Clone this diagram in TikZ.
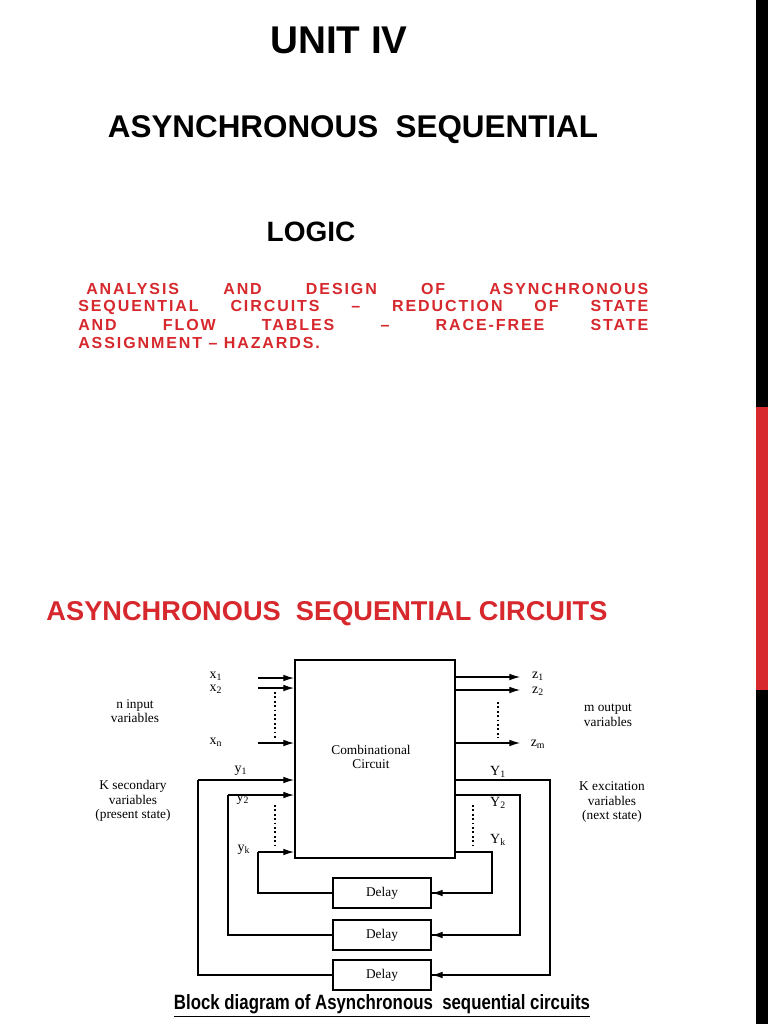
\documentclass[tikz,border=0pt]{standalone}
\usepackage{fontspec}
\setmainfont{Liberation Serif}
\setsansfont{Liberation Sans}
\usepackage{graphicx}
\usetikzlibrary{arrows.meta}
\definecolor{slred}{RGB}{214,40,45}
\begin{document}
\begin{tikzpicture}[x=0.75pt,y=-0.75pt,
  wire/.style={line width=0.8pt},
  arr/.style={wire,-{Latex[length=8pt,width=5pt]}},
  dots/.style={line width=1.3pt,dotted},
  lbl/.style={font=\fontsize{10}{11}\selectfont\rmfamily,align=center,inner sep=0pt},
  var/.style={font=\fontsize{10.5}{11}\selectfont\rmfamily,inner sep=0pt},
  boxs/.style={draw,line width=1.6pt},
  rtext/.style={text=slred,font=\sffamily\bfseries\fontsize{12}{14}\selectfont,inner sep=0pt,anchor=west}]
\useasboundingbox (0,0) rectangle (768,1024);
\fill[white] (0,0) rectangle (768,1024);
\fill[black] (756,0) rectangle (768,1024);
\fill[slred] (756,407) rectangle (768,690);
% titles
\node (t1) at (339,40) {\sffamily\bfseries\fontsize{29}{30}\selectfont UNIT IV};
\node (t2) at (353,130) {\resizebox{490\dimexpr0.75pt}{!}{\sffamily\bfseries ASYNCHRONOUS\ \ SEQUENTIAL}};
\node (t3) at (311,232) {\sffamily\bfseries\fontsize{21}{22}\selectfont LOGIC};
\node[rtext] (p1) at (86,289) {\makebox[562\dimexpr0.75pt][s]{\addfontfeature{LetterSpace=12}ANALYSIS AND DESIGN OF ASYNCHRONOUS}};
\node[rtext] (p2) at (78,307) {\makebox[570\dimexpr0.75pt][s]{\addfontfeature{LetterSpace=12}SEQUENTIAL CIRCUITS – REDUCTION OF STATE}};
\node[rtext] (p3) at (78,325) {\makebox[570\dimexpr0.75pt][s]{\addfontfeature{LetterSpace=12}AND FLOW TABLES – RACE-FREE STATE}};
\node[rtext] (p4) at (78,343) {\addfontfeature{LetterSpace=12}ASSIGNMENT – HAZARDS.};
\node[text=slred] (h) at (327,614) {\resizebox{561\dimexpr0.75pt}{!}{\sffamily\bfseries ASYNCHRONOUS\ \ SEQUENTIAL CIRCUITS}};
% diagram
\node[boxs,minimum width=160*0.75pt,minimum height=198*0.75pt,inner sep=0pt] (cc) at (375,759) {};
\node[lbl] (cct) at (371,757) {Combinational\\Circuit};
\node[boxs,minimum width=98*0.75pt,minimum height=30*0.75pt,lbl] (d1) at (382,893) {Delay};
\node[boxs,minimum width=98*0.75pt,minimum height=30*0.75pt,lbl] (d2) at (382,935) {Delay};
\node[boxs,minimum width=98*0.75pt,minimum height=30*0.75pt,lbl] (d3) at (382,975) {Delay};
% inputs
\coordinate (i1) at (258,678); \coordinate (i2) at (258,688); \coordinate (i3) at (258,743);
\draw[arr] (i1) -- (i1 -| cc.west); \draw[arr] (i2) -- (i2 -| cc.west); \draw[arr] (i3) -- (i3 -| cc.west);
\node[var] (lx1) at (216,676) {x$_{\mathrm{1}}$}; \node[var] (lx2) at (216,689) {x$_{\mathrm{2}}$}; \node[var] (lxn) at (216,742) {x$_{\mathrm{n}}$};
\draw[dots] (275,692) -- (275,738);
% outputs
\coordinate (o1) at (520,677); \coordinate (o2) at (520,690); \coordinate (o3) at (520,743);
\draw[arr] (o1 -| cc.east) -- (o1); \draw[arr] (o2 -| cc.east) -- (o2); \draw[arr] (o3 -| cc.east) -- (o3);
\node[var] (lz1) at (538,676) {z$_{\mathrm{1}}$}; \node[var] (lz2) at (538,691) {z$_{\mathrm{2}}$}; \node[var] (lzm) at (538,744) {z$_{\mathrm{m}}$};
\draw[dots] (498,702) -- (498,738);
% feedback
\coordinate (a1) at (550,780); \coordinate (a2) at (520,795); \coordinate (a3) at (492,852);
\coordinate (b1) at (198,780); \coordinate (b2) at (228,795); \coordinate (b3) at (258,852);
\draw[wire] (a1 -| cc.east) -- (a1) |- (d3.east) ; \draw[arr] (a1 |- d3.east) -- (d3.east);
\draw[wire] (a2 -| cc.east) -- (a2) |- (d2.east) ; \draw[arr] (a2 |- d2.east) -- (d2.east);
\draw[wire] (a3 -| cc.east) -- (a3) |- (d1.east) ; \draw[arr] (a3 |- d1.east) -- (d1.east);
\draw[wire] (d3.west) -| (b1); \draw[arr] (b1) -- (b1 -| cc.west);
\draw[wire] (d2.west) -| (b2); \draw[arr] (b2) -- (b2 -| cc.west);
\draw[wire] (d1.west) -| (b3); \draw[arr] (b3) -- (b3 -| cc.west);
\draw[dots] (275,805) -- (275,848);
\draw[dots] (473,805) -- (473,848);
\node[var] (ly1) at (241,771) {y$_{\mathrm{1}}$}; \node[var] (ly2) at (243,800) {y$_{\mathrm{2}}$}; \node[var] (lyk) at (244,850) {y$_{\mathrm{k}}$};
\node[var] (lY1) at (498,772) {Y$_{\mathrm{1}}$}; \node[var] (lY2) at (498,803) {Y$_{\mathrm{2}}$}; \node[var] (lYk) at (498,840) {Y$_{\mathrm{k}}$};
\node[lbl] (n1) at (135,711) {n input\\variables};
\node[lbl] (n2) at (608,715) {m output\\variables};
\node[lbl] (n3) at (133,801) {K secondary\\variables\\(present state)};
\node[lbl] (n4) at (612,802) {K excitation\\variables\\(next state)};
\node (cap) at (382,1006) {\resizebox{416\dimexpr0.75pt}{15\dimexpr0.75pt}{\sffamily\bfseries\underline{Block diagram of Asynchronous\ \ sequential circuits}}};
\end{tikzpicture}
\end{document}
